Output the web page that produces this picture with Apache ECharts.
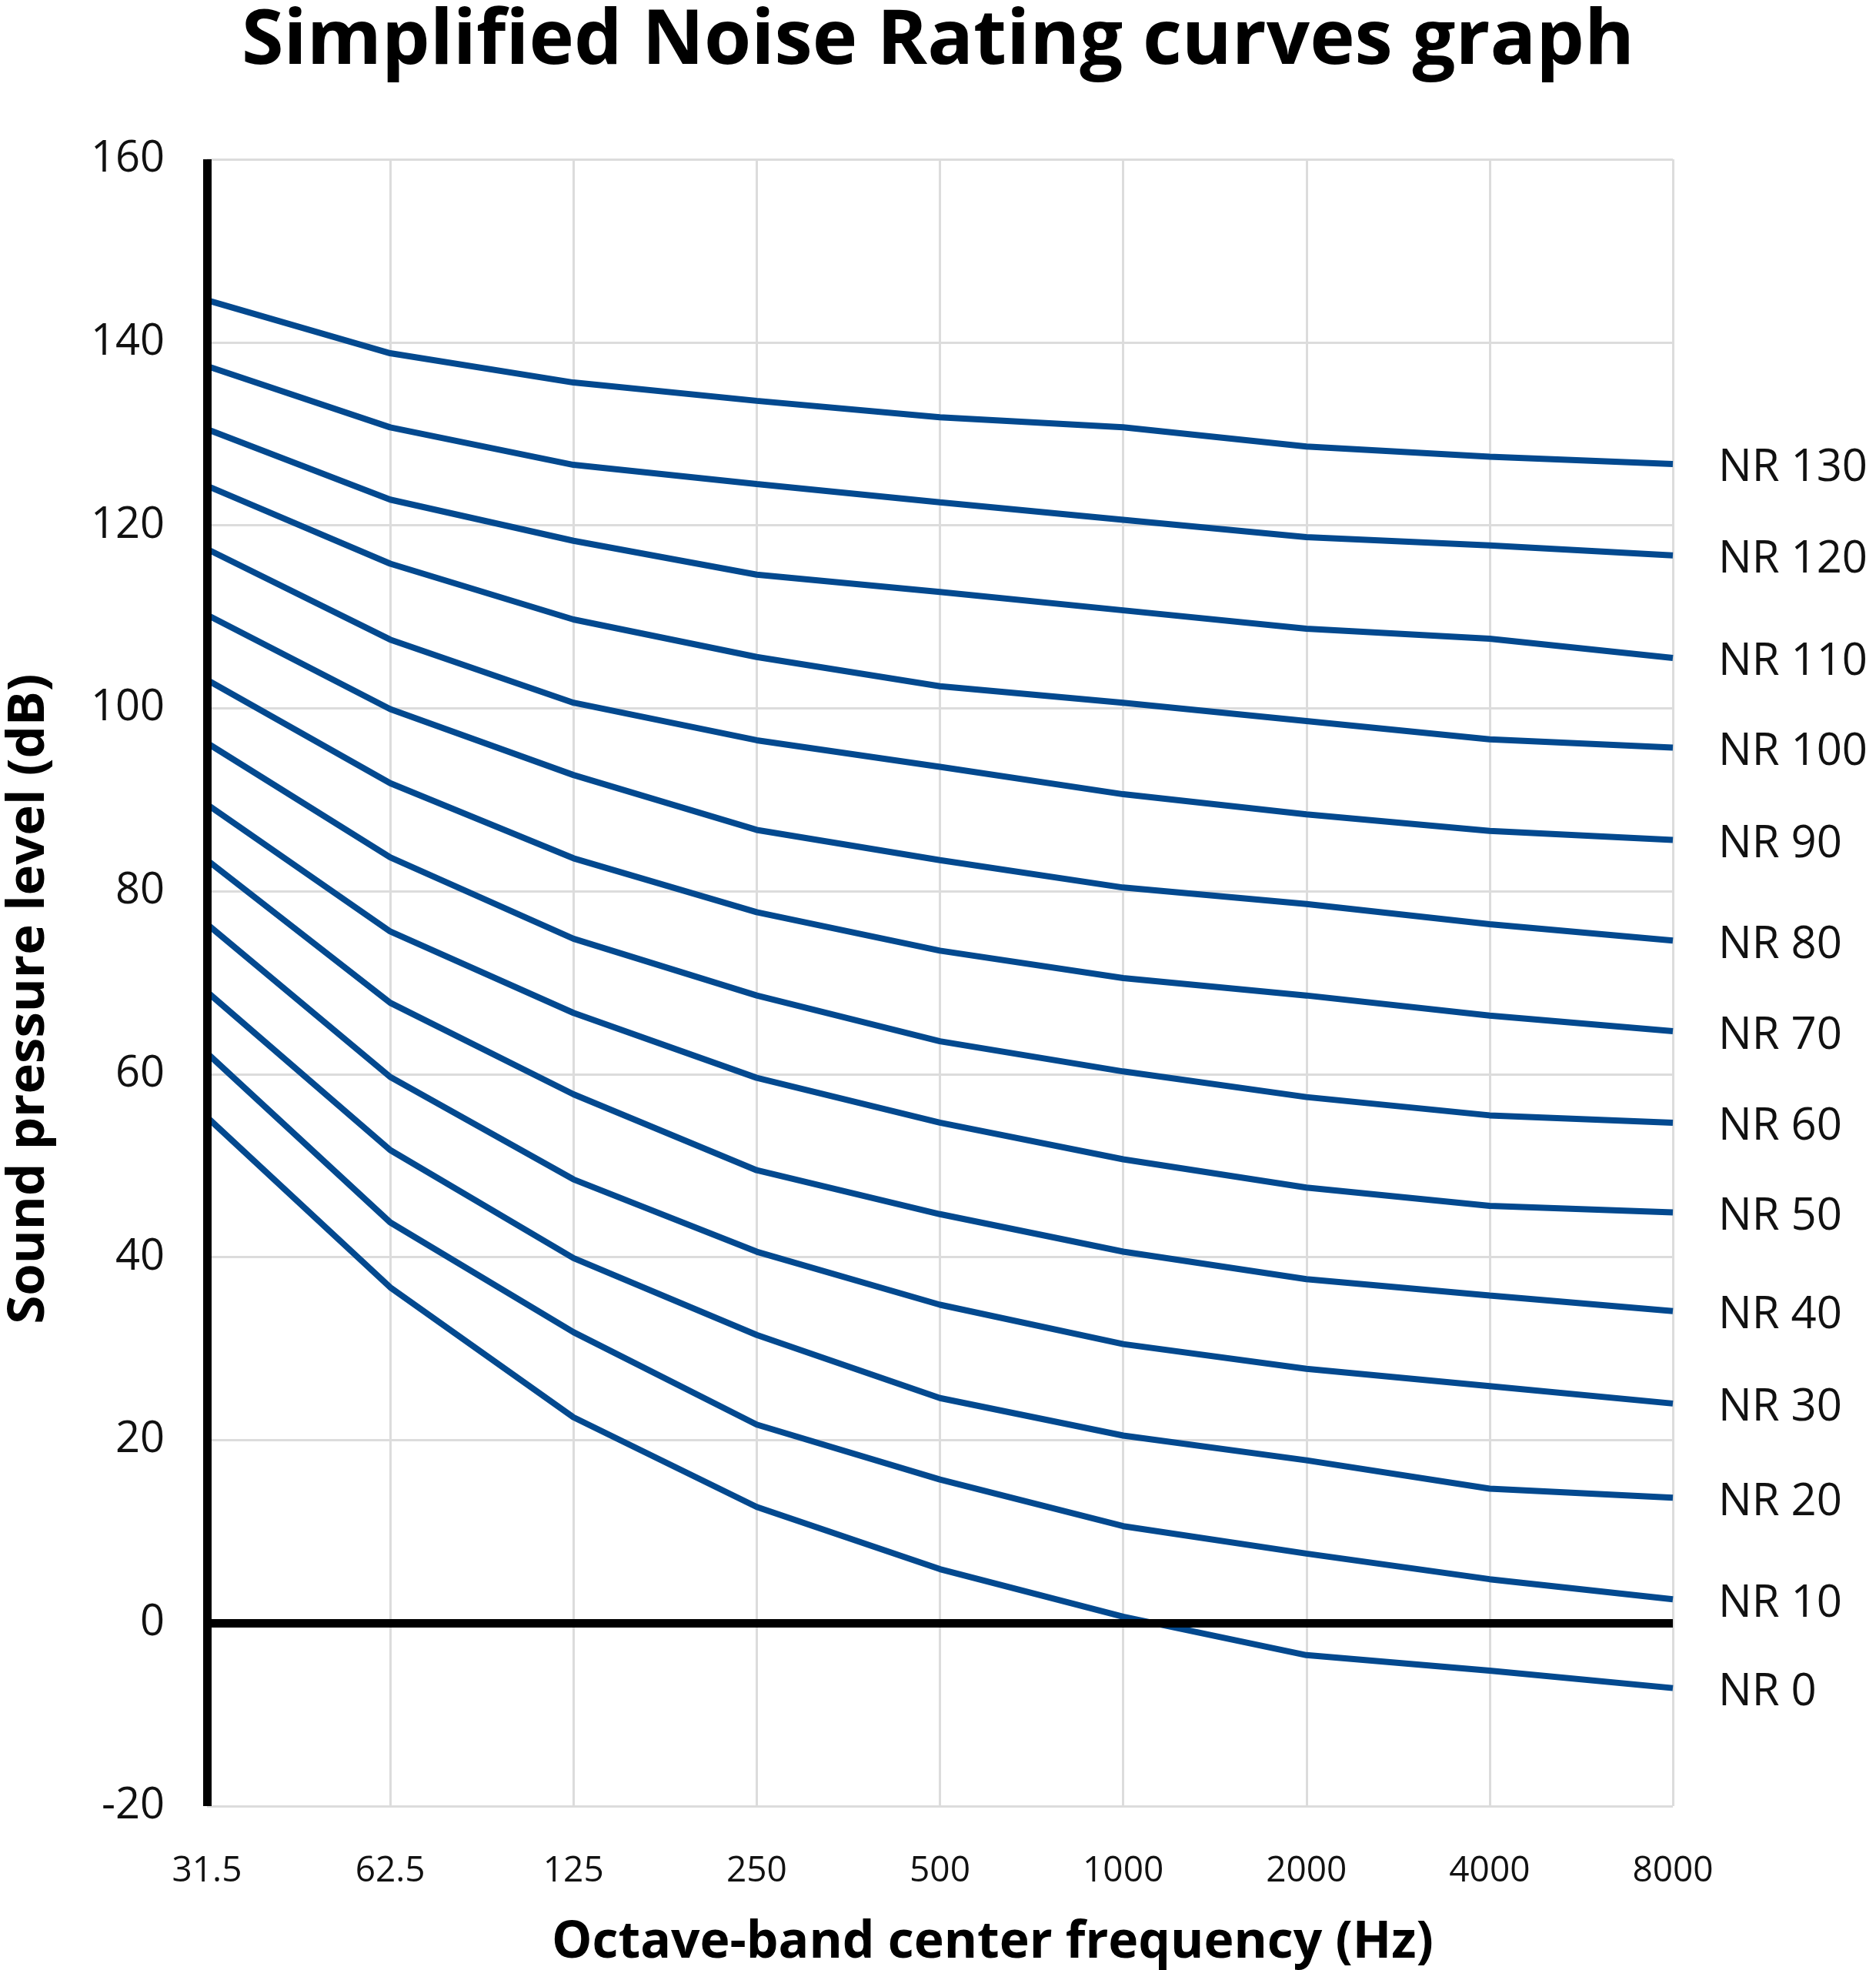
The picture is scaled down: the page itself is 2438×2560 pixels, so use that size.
<!DOCTYPE html>
<html>
<head>
<meta charset="utf-8">
<title>Simplified Noise Rating curves graph</title>
<script src="https://cdn.jsdelivr.net/npm/echarts@6/dist/echarts.min.js"></script>
<style>
  html, body { margin: 0; padding: 0; background: #fff; }
  #chart { width: 2438px; height: 2560px; }
</style>
</head>
<body>
<div id="chart"></div>
<script>
// 数据
const frequencies = ['31.5', '62.5', '125', '250', '500', '1000', '2000', '4000', '8000'];
const yTicks = { min: -20, max: 160, step: 20 };

const nr130 = [144.6, 138.8, 135.6, 133.6, 131.8, 130.7, 128.6, 127.5, 126.7];
const nr120 = [137.4, 130.7, 126.6, 124.5, 122.5, 120.6, 118.7, 117.8, 116.7];
const nr110 = [130.5, 122.8, 118.3, 114.6, 112.7, 110.7, 108.7, 107.6, 105.5];
const nr100 = [124.3, 115.8, 109.7, 105.6, 102.4, 100.6, 98.6, 96.6, 95.7];
const nr90 = [117.4, 107.5, 100.6, 96.5, 93.6, 90.6, 88.4, 86.6, 85.6];
const nr80 = [110.2, 99.9, 92.7, 86.7, 83.4, 80.4, 78.6, 76.4, 74.6];
const nr70 = [103.1, 91.8, 83.6, 77.7, 73.5, 70.5, 68.6, 66.4, 64.7];
const nr60 = [96.2, 83.7, 74.8, 68.6, 63.6, 60.3, 57.5, 55.5, 54.7];
const nr50 = [89.5, 75.6, 66.7, 59.6, 54.7, 50.7, 47.6, 45.6, 44.9];
const nr40 = [83.4, 67.8, 57.8, 49.5, 44.7, 40.6, 37.6, 35.8, 34.1];
const nr30 = [76.4, 59.7, 48.5, 40.6, 34.8, 30.5, 27.8, 25.9, 24.0];
const nr20 = [69.0, 51.7, 39.9, 31.5, 24.6, 20.5, 17.8, 14.7, 13.7];
const nr10 = [62.3, 43.8, 31.8, 21.7, 15.7, 10.6, 7.6, 4.8, 2.6];
const nr0 = [55.3, 36.7, 22.5, 12.7, 5.9, 0.7, -3.5, -5.2, -7.1];

const curveNames = ['NR 130', 'NR 120', 'NR 110', 'NR 100', 'NR 90', 'NR 80', 'NR 70',
  'NR 60', 'NR 50', 'NR 40', 'NR 30', 'NR 20', 'NR 10', 'NR 0'];
const curveValues = [nr130, nr120, nr110, nr100, nr90, nr80, nr70,
  nr60, nr50, nr40, nr30, nr20, nr10, nr0];

// 样式
const chartStyle = {
  font: '"Open Sans", "Noto Sans", sans-serif',
  lineColor: '#03498f',
  gridColor: '#dcdcdc',
  textColor: '#111111',
  grid: { left: 269, right: 264, top: 207, bottom: 213 }
};

const chart = echarts.init(document.getElementById('chart'), null, { renderer: 'canvas' });

const series = curveNames.map((name, i) => ({
  name: name,
  type: 'line',
  data: curveValues[i],
  symbol: 'none',
  silent: true,
  lineStyle: { color: chartStyle.lineColor, width: 8 },
  endLabel: {
    show: true,
    formatter: '{a}',
    distance: 59,
    offset: [0, 6],
    color: chartStyle.textColor,
    fontFamily: chartStyle.font,
    fontSize: 58
  }
}));

// black zero line and left axis drawn on top of the curves
series.push({
  type: 'line',
  data: [],
  silent: true,
  markLine: {
    silent: true,
    symbol: 'none',
    label: { show: false },
    lineStyle: { color: '#000', width: 11, type: 'solid' },
    data: [{ yAxis: 0 }, { xAxis: frequencies[0] }]
  }
});

const option = {
  animation: false,
  backgroundColor: '#fff',
  title: {
    text: 'Simplified Noise Rating curves graph',
    left: 'center',
    top: 0,
    textStyle: {
      fontFamily: chartStyle.font,
      fontWeight: 'bold',
      fontSize: 99,
      color: '#000'
    }
  },
  grid: chartStyle.grid,
  xAxis: {
    type: 'category',
    data: frequencies,
    boundaryGap: false,
    axisLine: { show: false },
    axisTick: { show: false },
    axisLabel: {
      margin: 62,
      color: chartStyle.textColor,
      fontFamily: chartStyle.font,
      fontSize: 46
    },
    splitLine: { show: true, lineStyle: { color: chartStyle.gridColor, width: 3 } }
  },
  yAxis: {
    type: 'value',
    min: yTicks.min,
    max: yTicks.max,
    interval: yTicks.step,
    axisLine: { show: false },
    axisTick: { show: false },
    axisLabel: {
      margin: 55,
      color: chartStyle.textColor,
      fontFamily: chartStyle.font,
      fontSize: 56
    },
    splitLine: { show: true, lineStyle: { color: chartStyle.gridColor, width: 3 } }
  },
  graphic: [
    {
      type: 'text',
      x: 38,
      y: 1298,
      rotation: Math.PI / 2,
      style: {
        text: 'Sound pressure level (dB)',
        fontFamily: chartStyle.font,
        fontWeight: 'bold',
        fontSize: 67,
        fill: '#000',
        align: 'center',
        verticalAlign: 'middle'
      }
    },
    {
      type: 'text',
      x: 1290,
      y: 2525,
      style: {
        text: 'Octave-band center frequency (Hz)',
        fontFamily: chartStyle.font,
        fontWeight: 'bold',
        fontSize: 66,
        fill: '#000',
        align: 'center',
        verticalAlign: 'middle'
      }
    }
  ],
  series: series
};

chart.setOption(option);
</script>
</body>
</html>
